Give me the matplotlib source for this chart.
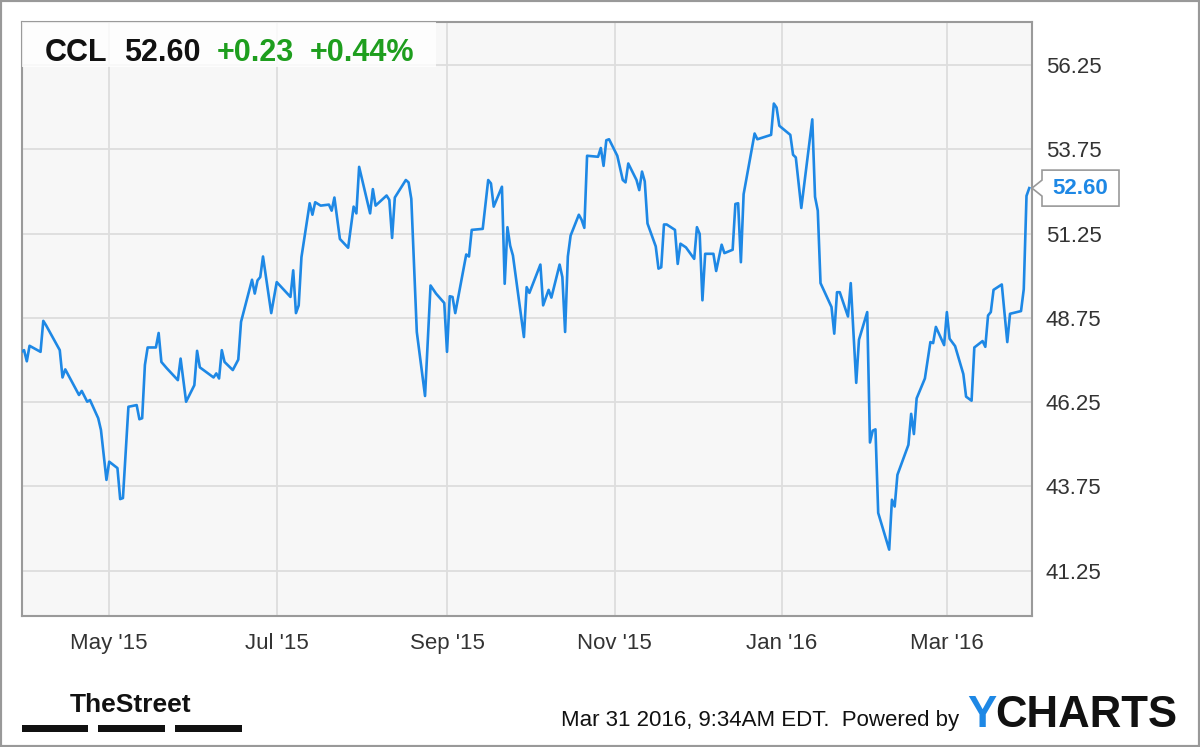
import pandas as pd
import matplotlib
matplotlib.use('Agg')
import matplotlib.pyplot as plt
import matplotlib.dates as mdates
from matplotlib.patches import Rectangle, Polygon
from matplotlib.transforms import Affine2D, ScaledTranslation

# 字体：Arial 风格
plt.rcParams['font.family'] = ['Liberation Sans', 'DejaVu Sans']

# 数据：CCL 每日收盘价（从图上读取的拐点）
dates = [
    '2015-03-30', '2015-03-31', '2015-04-01', '2015-04-02', '2015-04-06', '2015-04-07', '2015-04-08',
    '2015-04-13', '2015-04-14', '2015-04-15', '2015-04-20', '2015-04-21', '2015-04-23', '2015-04-24',
    '2015-04-27', '2015-04-28', '2015-04-30', '2015-05-01', '2015-05-04', '2015-05-05', '2015-05-06',
    '2015-05-08', '2015-05-11', '2015-05-12', '2015-05-13', '2015-05-14', '2015-05-15', '2015-05-18',
    '2015-05-19', '2015-05-20', '2015-05-22', '2015-05-26', '2015-05-27', '2015-05-29', '2015-06-01',
    '2015-06-02', '2015-06-03', '2015-06-08', '2015-06-09', '2015-06-10', '2015-06-11', '2015-06-12',
    '2015-06-15', '2015-06-17', '2015-06-18', '2015-06-22', '2015-06-23', '2015-06-24', '2015-06-25',
    '2015-06-26', '2015-06-29', '2015-07-01', '2015-07-06', '2015-07-07', '2015-07-08', '2015-07-09',
    '2015-07-10', '2015-07-13', '2015-07-14', '2015-07-15', '2015-07-17', '2015-07-20', '2015-07-21',
    '2015-07-22', '2015-07-24', '2015-07-27', '2015-07-29', '2015-07-30', '2015-07-31', '2015-08-04',
    '2015-08-05', '2015-08-06', '2015-08-10', '2015-08-11', '2015-08-12', '2015-08-13', '2015-08-17',
    '2015-08-18', '2015-08-19', '2015-08-21', '2015-08-24', '2015-08-26', '2015-08-28', '2015-08-31',
    '2015-09-01', '2015-09-02', '2015-09-03', '2015-09-04', '2015-09-08', '2015-09-09', '2015-09-10',
    '2015-09-14', '2015-09-16', '2015-09-17', '2015-09-18', '2015-09-21', '2015-09-22', '2015-09-23',
    '2015-09-24', '2015-09-25', '2015-09-29', '2015-09-30', '2015-10-01', '2015-10-05', '2015-10-06',
    '2015-10-08', '2015-10-09', '2015-10-12', '2015-10-13', '2015-10-14', '2015-10-15', '2015-10-16',
    '2015-10-19', '2015-10-20', '2015-10-21', '2015-10-22', '2015-10-26', '2015-10-27', '2015-10-28',
    '2015-10-29', '2015-10-30', '2015-11-02', '2015-11-04', '2015-11-05', '2015-11-06', '2015-11-09',
    '2015-11-10', '2015-11-11', '2015-11-12', '2015-11-13', '2015-11-16', '2015-11-17', '2015-11-18',
    '2015-11-19', '2015-11-20', '2015-11-23', '2015-11-24', '2015-11-25', '2015-11-27', '2015-11-30',
    '2015-12-01', '2015-12-02', '2015-12-03', '2015-12-04', '2015-12-07', '2015-12-08', '2015-12-10',
    '2015-12-11', '2015-12-14', '2015-12-15', '2015-12-16', '2015-12-17', '2015-12-18', '2015-12-22',
    '2015-12-23', '2015-12-28', '2015-12-29', '2015-12-30', '2015-12-31', '2016-01-04', '2016-01-05',
    '2016-01-06', '2016-01-08', '2016-01-12', '2016-01-13', '2016-01-14', '2016-01-15', '2016-01-19',
    '2016-01-20', '2016-01-21', '2016-01-22', '2016-01-25', '2016-01-26', '2016-01-28', '2016-01-29',
    '2016-02-01', '2016-02-02', '2016-02-03', '2016-02-04', '2016-02-05', '2016-02-09', '2016-02-10',
    '2016-02-11', '2016-02-12', '2016-02-16', '2016-02-17', '2016-02-18', '2016-02-19', '2016-02-22',
    '2016-02-24', '2016-02-25', '2016-02-26', '2016-02-29', '2016-03-01', '2016-03-02', '2016-03-04',
    '2016-03-07', '2016-03-08', '2016-03-10', '2016-03-11', '2016-03-14', '2016-03-15', '2016-03-16',
    '2016-03-17', '2016-03-18', '2016-03-21', '2016-03-23', '2016-03-24', '2016-03-28', '2016-03-29',
    '2016-03-30', '2016-03-31',
]
close = [
    47.74, 47.79, 47.46, 47.92, 47.74, 48.66, 48.53,
    47.79, 46.98, 47.22, 46.46, 46.58, 46.26, 46.31,
    45.77, 45.42, 43.94, 44.48, 44.29, 43.37, 43.40,
    46.11, 46.16, 45.74, 45.77, 47.35, 47.87, 47.87,
    48.30, 47.44, 47.25, 46.90, 47.54, 46.26, 46.75,
    47.77, 47.28, 46.98, 47.10, 46.95, 47.79, 47.44,
    47.20, 47.51, 48.63, 49.88, 49.47, 49.86, 49.96,
    50.57, 48.89, 49.81, 49.37, 50.16, 48.89, 49.12,
    50.55, 52.15, 51.81, 52.18, 52.08, 52.11, 51.93,
    52.32, 51.09, 50.83, 52.05, 51.85, 53.23, 51.85,
    52.57, 52.08, 52.38, 52.25, 51.12, 52.32, 52.84,
    52.77, 52.28, 48.33, 46.43, 49.71, 49.47, 49.19,
    47.74, 49.39, 49.37, 48.89, 50.63, 50.57, 51.36,
    51.39, 52.84, 52.74, 52.05, 52.64, 49.76, 51.44,
    50.89, 50.60, 48.18, 49.66, 49.49, 50.33, 49.12,
    49.58, 49.35, 50.33, 49.96, 48.33, 50.57, 51.19,
    51.81, 51.66, 51.42, 53.56, 53.53, 53.79, 53.26,
    54.02, 54.05, 53.56, 52.84, 52.77, 53.33, 52.84,
    52.54, 53.09, 52.80, 51.55, 50.87, 50.21, 50.25,
    51.52, 51.52, 51.36, 50.35, 50.95, 50.84, 50.50,
    51.44, 51.24, 49.27, 50.65, 50.65, 50.14, 50.92,
    50.67, 50.77, 52.13, 52.15, 50.40, 52.42, 54.22,
    54.05, 54.18, 55.11, 54.99, 54.45, 54.18, 53.59,
    53.51, 52.01, 54.64, 52.34, 51.93, 49.78, 49.07,
    48.28, 49.51, 49.51, 48.79, 49.78, 46.82, 48.10,
    48.92, 45.05, 45.40, 45.44, 42.96, 41.87, 43.35,
    43.15, 44.09, 44.98, 45.90, 45.30, 46.36, 46.95,
    48.03, 48.00, 48.48, 47.94, 48.92, 48.13, 47.91,
    47.08, 46.41, 46.29, 47.87, 48.06, 47.89, 48.82,
    48.92, 49.58, 49.74, 48.03, 48.87, 48.95, 49.60,
    52.37, 52.60,
]

ticker = 'CCL'
last_price = 52.60
change = 0.23
change_pct = 0.44
y_ticks = [41.25, 43.75, 46.25, 48.75, 51.25, 53.75, 56.25]
stamp = 'Mar 31 2016, 9:34AM EDT.'

line_blue = '#1e88e5'
up_green = '#1e9e1e'

W, H = 1200, 747
fig = plt.figure(figsize=(W / 100, H / 100), dpi=100)
ax = fig.add_axes([22 / W, 131 / H, 1010 / W, 594 / H])

x = pd.to_datetime(dates)
ax.plot(x, close, color=line_blue, lw=1.9, zorder=4, solid_joinstyle='round')

ax.set_facecolor('#f7f7f7')
ax.set_xlim(pd.Timestamp('2015-03-30 06:00'), pd.Timestamp('2016-04-01 00:00'))
ax.set_ylim(39.90, 57.53)

# 坐标轴：日期在下，价格在右
ax.xaxis.set_major_locator(mdates.MonthLocator(bymonth=[1, 3, 5, 7, 9, 11]))
ax.xaxis.set_major_formatter(mdates.DateFormatter("%b '%y"))
ax.yaxis.tick_right()
ax.set_yticks(y_ticks)
ax.set_yticklabels([f'{v:.2f}' for v in y_ticks])
ax.tick_params(axis='both', length=0, labelsize=16, colors='#333333')
ax.tick_params(axis='x', pad=12)
ax.tick_params(axis='y', pad=10)

ax.grid(True, color='#dddddd', lw=1.3)
ax.set_axisbelow(True)
for s in ax.spines.values():
    s.set_color('#9a9a9a')
    s.set_linewidth(1.5)

# 右侧当前价格标签（带小箭头的框）
tr = Affine2D() + ScaledTranslation(1, last_price, ax.get_yaxis_transform())
verts = [(0, 0), (10, 8), (10, 18), (87, 18), (87, -18), (10, -18), (10, -8)]
ax.add_patch(Polygon(verts, closed=True, transform=tr, facecolor='white',
                     edgecolor='#999999', lw=1.2, clip_on=False, zorder=5))
ax.annotate(f'{last_price:.2f}', xy=(1, last_price), xycoords=ax.get_yaxis_transform(),
            xytext=(48.5 * 0.72, 0), textcoords='offset points', ha='center', va='center',
            fontsize=16, fontweight='bold', color=line_blue, zorder=6, annotation_clip=False)

# 左上角报价框
ax.add_patch(Rectangle((0, 1 - 45 / 594), 414 / 1010, 45 / 594, transform=ax.transAxes,
                       facecolor='white', alpha=0.8, edgecolor='none', zorder=3))
hy = (H - 61) / H
fig.text(45 / W, hy, ticker, fontsize=22, fontweight='bold', color='#111111', va='baseline')
fig.text(124 / W, hy, f'{last_price:.2f}', fontsize=22, fontweight='bold', color='#111111', va='baseline')
fig.text(217 / W, hy, f'+{change:.2f}', fontsize=22, fontweight='bold', color=up_green, va='baseline')
fig.text(310 / W, hy, f'+{change_pct:.2f}%', fontsize=22, fontweight='bold', color=up_green, va='baseline')

# 底部：TheStreet 标志
fig.text(131 / W, (H - 712) / H, 'TheStreet', fontsize=19, fontweight='bold', color='#111111',
         ha='center', va='baseline')
for x0, x1 in [(22, 88), (98, 165), (175, 242)]:
    fig.patches.append(Rectangle((x0 / W, (H - 732) / H), (x1 - x0) / W, 7 / H,
                                 transform=fig.transFigure, facecolor='#111111', edgecolor='none'))

# 底部：时间戳和 YCHARTS
fig.text(959 / W, (H - 726) / H, stamp + '  Powered by', fontsize=16, color='#111111',
         ha='right', va='baseline')
fig.text(967 / W, (H - 727) / H, 'Y', fontsize=31.5, fontweight='bold', color=line_blue, va='baseline')
fig.text(1177 / W, (H - 727) / H, 'CHARTS', fontsize=31.5, fontweight='bold', color='#111111',
         ha='right', va='baseline')

# 外边框
fig.patches.append(Rectangle((0, 0), 1, 1, transform=fig.transFigure, fill=False,
                             edgecolor='#999999', lw=3))

fig.savefig('out.png', dpi=100)
